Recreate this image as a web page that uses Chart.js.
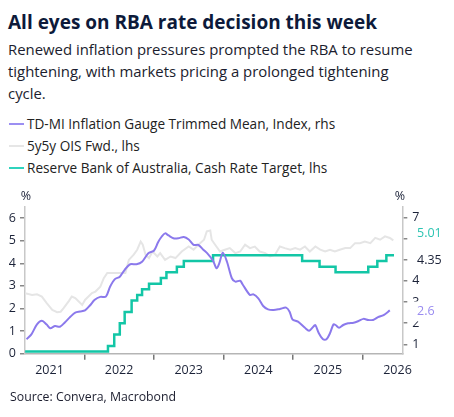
<!DOCTYPE html>
<html>
<head>
<meta charset="utf-8">
<script src="https://cdn.jsdelivr.net/npm/chart.js@4.4.1/dist/chart.umd.min.js"></script>
<style>
  body{margin:0;background:#fff;font-family:"Open Sans",sans-serif;}
  #wrap{position:relative;width:454px;height:417px;overflow:hidden;}
  #title{position:absolute;left:8px;top:9px;font-size:19px;font-weight:700;line-height:26px;color:#0d1a3a;white-space:nowrap;}
  #sub{position:absolute;left:8px;top:38px;font-size:14.9px;line-height:22px;color:#1b1d2e;white-space:nowrap;}
  #legend{position:absolute;left:9px;top:113px;font-size:13.6px;line-height:22px;color:#222;}
  #legend div{white-space:nowrap;}
  #legend i{display:inline-block;width:15px;height:2px;vertical-align:middle;margin-right:3px;position:relative;top:-1px;}
  #src{position:absolute;left:10px;top:389px;font-size:12.3px;line-height:16px;color:#1b1d2e;}
  canvas{position:absolute;left:0;top:180px;}
</style>
</head>
<body>
<div id="wrap">
  <div id="title">All eyes on RBA rate decision this week</div>
  <div id="sub">Renewed inflation pressures prompted the RBA to resume<br>tightening, with markets pricing a prolonged tightening<br>cycle.</div>
  <div id="legend">
    <div><i style="background:#9c8ff2"></i>TD-MI Inflation Gauge Trimmed Mean, Index, rhs</div>
    <div><i style="background:#e6e6e6"></i>5y5y OIS Fwd., lhs</div>
    <div><i style="background:#2fd3bd"></i>Reserve Bank of Australia, Cash Rate Target, lhs</div>
  </div>
  <canvas id="chart" width="454" height="212"></canvas>
  <div id="src">Source: Convera, Macrobond</div>
</div>
<script>
// data (x = decimal year)
const yearLabels = [2021, 2022, 2023, 2024, 2025, 2026];
const leftTicks = [0, 1, 2, 3, 4, 5, 6];
const rightTicks = [1, 2, 3, 4, 5, 6, 7];

// TD-MI Inflation Gauge Trimmed Mean, rhs
const tdmiX = [2021.17,2021.24,2021.32,2021.39,2021.46,2021.51,2021.58,2021.65,2021.72,2021.80,2021.87,2021.94,
  2022.01,2022.08,2022.15,2022.23,2022.31,2022.37,2022.44,2022.51,2022.58,2022.66,2022.75,2022.83,2022.92,
  2023.00,2023.06,2023.11,2023.16,2023.21,2023.28,2023.35,2023.43,2023.50,2023.57,2023.64,2023.71,2023.78,
  2023.85,2023.90,2023.94,2023.99,2024.05,2024.12,2024.17,2024.24,2024.28,2024.38,2024.43,2024.50,2024.57,
  2024.64,2024.72,2024.81,2024.90,2024.95,2024.99,2025.07,2025.17,2025.23,2025.29,2025.32,2025.37,2025.43,
  2025.48,2025.53,2025.58,2025.61,2025.66,2025.72,2025.79,2025.87,2025.94,2026.01,2026.08,2026.15,2026.22,
  2026.30,2026.39];
const tdmiY = [1.24,1.47,1.94,2.11,1.93,1.76,1.86,1.83,2.03,2.30,2.50,2.55,
  2.60,2.83,3.10,3.24,3.25,3.72,4.08,4.19,4.52,4.78,4.78,4.90,5.30,
  5.42,5.82,6.08,6.24,6.14,6.01,6.01,6.07,5.95,5.70,5.69,5.47,5.25,
  4.95,4.59,4.83,5.33,4.90,4.12,3.96,4.00,3.80,3.33,3.36,3.17,2.81,
  2.65,2.62,2.67,2.73,2.54,2.18,2.07,1.78,1.64,1.83,1.90,1.52,1.24,
  1.24,1.52,1.94,1.91,1.78,1.91,1.99,2.02,2.10,2.20,2.15,2.15,2.28,
  2.38,2.60];

// 5y5y OIS forward, lhs
const oisX = [2021.15,2021.25,2021.32,2021.39,2021.46,2021.54,2021.61,2021.66,2021.70,2021.78,2021.82,2021.87,2021.92,2021.97,
  2022.01,2022.06,2022.11,2022.16,2022.23,2022.28,2022.33,2022.59,2022.64,2022.71,2022.76,2022.81,2022.84,2022.88,2022.93,2022.98,
  2023.05,2023.09,2023.16,2023.24,2023.31,2023.40,2023.50,2023.57,2023.64,2023.72,2023.76,2023.81,2023.83,2023.88,2023.95,
  2024.02,2024.09,2024.17,2024.24,2024.31,2024.38,2024.45,2024.52,2024.60,2024.67,2024.74,2024.81,2024.88,2024.96,
  2025.03,2025.10,2025.17,2025.24,2025.32,2025.39,2025.46,2025.53,2025.60,2025.67,2025.75,2025.82,2025.89,2025.96,
  2026.03,2026.11,2026.18,2026.25,2026.32,2026.39,2026.44];
const oisY = [2.68,2.60,2.63,2.53,2.24,1.94,1.84,1.86,2.01,2.34,2.53,2.46,2.31,2.16,
  2.38,2.53,2.68,2.75,2.97,3.34,3.57,3.57,4.15,4.38,4.60,4.96,4.82,4.38,4.23,4.52,
  4.30,4.45,4.15,4.30,4.23,4.52,4.74,4.60,4.82,5.04,5.41,5.45,5.04,4.82,4.52,
  4.60,4.67,4.45,4.52,4.82,4.67,4.74,4.52,4.45,4.30,4.38,4.74,4.67,4.60,
  4.67,4.60,4.74,4.52,4.74,4.60,4.52,4.60,4.52,4.60,4.67,4.67,4.89,4.89,
  4.96,4.89,5.12,5.04,5.19,5.12,5.01];

// RBA cash rate target, lhs (value from each decision date)
const cashX = [2021.15,2022.34,2022.43,2022.51,2022.58,2022.68,2022.76,2022.83,2022.93,2023.10,2023.18,2023.33,2023.43,
  2023.85,2025.13,2025.38,2025.61,2026.08,2026.21,2026.34,2026.45];
const cashY = [0.10,0.35,0.85,1.35,1.85,2.35,2.60,2.85,3.10,3.35,3.60,3.85,4.10,
  4.35,4.10,3.85,3.60,3.85,4.10,4.35,4.35];

const xMin = 2021.148, xMax = 2026.569;
const pts = (xs, ys) => xs.map((x, i) => ({x: x, y: ys[i]}));

const tickFont = {family: '"Open Sans", sans-serif', size: 12.5};
const tickColor = '#1b2238';

// end-of-series value boxes on the right, plus the % unit marks
const endLabels = {
  id: 'endLabels',
  afterDraw(chart){
    const ctx = chart.ctx;
    const yl = chart.scales.y, yr = chart.scales.y1;
    const items = [
      {text: oisY[oisY.length-1].toFixed(2), y: yl.getPixelForValue(oisY[oisY.length-1]) - 7, color: '#2cc4b2'},
      {text: cashY[cashY.length-1].toFixed(2), y: yl.getPixelForValue(cashY[cashY.length-1]) + 5, color: '#1b2238'},
      {text: String(tdmiY[tdmiY.length-1]), y: yr.getPixelForValue(tdmiY[tdmiY.length-1]) + 1, color: '#9a8cf0'}
    ];
    ctx.save();
    ctx.font = '12.5px "Open Sans", sans-serif';
    ctx.textBaseline = 'middle';
    items.forEach(it => {
      ctx.fillStyle = '#fff';
      ctx.fillRect(409, it.y - 10, 45, 20);
    });
    items.forEach(it => {
      ctx.fillStyle = it.color;
      ctx.textAlign = 'left';
      ctx.fillText(it.text, 417, it.y);
    });
    ctx.fillStyle = tickColor;
    ctx.textAlign = 'center';
    ctx.fillText('%', 26, 16);
    ctx.fillText('%', 400, 16);
    ctx.restore();
  }
};

new Chart(document.getElementById('chart'), {
  type: 'line',
  data: {
    datasets: [
      {label: 'TD-MI Inflation Gauge Trimmed Mean, Index, rhs', data: pts(tdmiX, tdmiY), yAxisID: 'y1',
        borderColor: '#8b79ec', borderWidth: 2, pointRadius: 0, tension: 0.3},
      {label: 'Reserve Bank of Australia, Cash Rate Target, lhs', data: pts(cashX, cashY), yAxisID: 'y',
        borderColor: '#13c6a6', borderWidth: 2.5, pointRadius: 0, stepped: true},
      {label: '5y5y OIS Fwd., lhs', data: pts(oisX, oisY), yAxisID: 'y',
        borderColor: '#e5e5e5', borderWidth: 2, pointRadius: 0, tension: 0}
    ]
  },
  options: {
    responsive: false,
    animation: false,
    layout: {padding: {top: 26.7, left: 0, right: 0, bottom: 0}},
    plugins: {legend: {display: false}, tooltip: {enabled: false}},
    scales: {
      x: {
        type: 'linear', min: xMin, max: xMax,
        afterBuildTicks: s => {
          const t = [];
          yearLabels.forEach(yr => { if (yr > xMin) t.push({value: yr}); t.push({value: yr + 0.5}); });
          s.ticks = t.filter(k => k.value >= xMin && k.value <= xMax).sort((a, b) => a.value - b.value);
        },
        afterFit: s => { s.height = 38.2; },
        border: {color: '#b5b5b5', width: 1.5},
        grid: {drawOnChartArea: false, tickLength: 6, lineWidth: 1.5,
          tickColor: c => (c.tick && c.tick.value % 1 === 0) ? '#777' : 'rgba(0,0,0,0)'},
        ticks: {autoSkip: false, maxRotation: 0, padding: 3, color: tickColor, font: tickFont,
          callback: v => (v % 1 !== 0) ? String(Math.floor(v)) : ''}
      },
      y: {
        position: 'left', min: 0, max: 6.5,
        afterBuildTicks: s => { s.ticks = leftTicks.map(v => ({value: v})); },
        afterFit: s => { s.width = 25; },
        border: {color: '#c8c8c8', width: 1.5},
        grid: {drawOnChartArea: false, tickLength: 5, tickColor: '#888', lineWidth: 1.5},
        ticks: {padding: 4, color: tickColor, font: tickFont}
      },
      y1: {
        position: 'right', min: 0.55, max: 7.5,
        afterBuildTicks: s => { s.ticks = rightTicks.map(v => ({value: v})); },
        afterFit: s => { s.width = 51.7; },
        border: {color: '#c8c8c8', width: 1.5},
        grid: {drawOnChartArea: false, tickLength: 5, tickColor: '#888', lineWidth: 1.5},
        ticks: {padding: 5, color: tickColor, font: tickFont}
      }
    }
  },
  plugins: [endLabels]
});
</script>
</body>
</html>
